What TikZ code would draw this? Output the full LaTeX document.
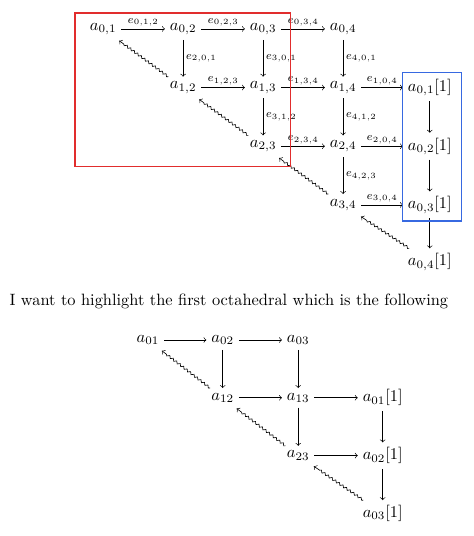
\RequirePackage{fix-cm}
\documentclass[tikz,border=0pt]{standalone}
\usepackage{tikz}
\usetikzlibrary{arrows, decorations.pathmorphing}
\definecolor{boxRed}{RGB}{225,45,45}
\definecolor{boxBlue}{RGB}{55,105,225}
\tikzset{
    objMath/.style={inner sep=3pt},
    arrow/.style={->, >=to},
    squigArrow/.style={->, >=to, decorate, decoration={snake, amplitude=0.7pt, segment length=2.8pt, post length=1.5mm}, shorten >=1pt},
    edgeLabel/.style={font=\fontsize{7.35}{8.8}\selectfont, inner sep=1.5pt},
    redBox/.style={draw=boxRed, thick},
    blueBox/.style={draw=boxBlue, thick}
}
\begin{document}
\begin{tikzpicture}[node distance=1.8cm, every node/.append style={font=\fontsize{10.5}{12.6}\selectfont}]
    \useasboundingbox (0,0) rectangle (10.665,-12.06);

    % first diagram
    \node (a01) [objMath] at (2.32,-0.65) {$a_{0,1}$};
    \node (a02) [objMath, right of=a01] {$a_{0,2}$};
    \node (a03) [objMath, right of=a02] {$a_{0,3}$};
    \node (a04) [objMath, right of=a03] {$a_{0,4}$};
    \node (a12) [objMath, below of=a02, yshift=0.48cm] {$a_{1,2}$};
    \node (a13) [objMath, right of=a12] {$a_{1,3}$};
    \node (a14) [objMath, right of=a13] {$a_{1,4}$};
    \node (a01s) [objMath, right of=a14, xshift=0.15cm] {$a_{0,1}[1]$};
    \node (a23) [objMath, below of=a13, yshift=0.48cm] {$a_{2,3}$};
    \node (a24) [objMath, right of=a23] {$a_{2,4}$};
    \node (a02s) [objMath, right of=a24, xshift=0.15cm] {$a_{0,2}[1]$};
    \node (a34) [objMath, below of=a24, yshift=0.48cm] {$a_{3,4}$};
    \node (a03s) [objMath, right of=a34, xshift=0.15cm] {$a_{0,3}[1]$};
    \node (a04s) [objMath, below of=a03s, yshift=0.52cm] {$a_{0,4}[1]$};

    \draw[arrow] (a01) -- node[edgeLabel, above] {$e_{0,1,2}$} (a02);
    \draw[arrow] (a02) -- node[edgeLabel, above] {$e_{0,2,3}$} (a03);
    \draw[arrow] (a03) -- node[edgeLabel, above] {$e_{0,3,4}$} (a04);
    \draw[arrow] (a12) -- node[edgeLabel, above] {$e_{1,2,3}$} (a13);
    \draw[arrow] (a13) -- node[edgeLabel, above] {$e_{1,3,4}$} (a14);
    \draw[arrow] (a14) -- node[edgeLabel, above] {$e_{1,0,4}$} (a01s);
    \draw[arrow] (a23) -- node[edgeLabel, above] {$e_{2,3,4}$} (a24);
    \draw[arrow] (a24) -- node[edgeLabel, above] {$e_{2,0,4}$} (a02s);
    \draw[arrow] (a34) -- node[edgeLabel, above] {$e_{3,0,4}$} (a03s);

    \draw[arrow] (a02) -- node[edgeLabel, right] {$e_{2,0,1}$} (a12);
    \draw[arrow] (a03) -- node[edgeLabel, right] {$e_{3,0,1}$} (a13);
    \draw[arrow] (a13) -- node[edgeLabel, right] {$e_{3,1,2}$} (a23);
    \draw[arrow] (a04) -- node[edgeLabel, right] {$e_{4,0,1}$} (a14);
    \draw[arrow] (a14) -- node[edgeLabel, right] {$e_{4,1,2}$} (a24);
    \draw[arrow] (a24) -- node[edgeLabel, right] {$e_{4,2,3}$} (a34);
    \draw[arrow] (a01s) -- (a02s);
    \draw[arrow] (a02s) -- (a03s);
    \draw[arrow] (a03s) -- (a04s);

    \draw[squigArrow] (a12) -- (a01);
    \draw[squigArrow] (a23) -- (a12);
    \draw[squigArrow] (a34) -- (a23);
    \draw[squigArrow] (a04s) -- (a34);

    \draw[redBox] ([shift={(-0.63,0.36)}]a01.center) rectangle ([shift={(0.61,-0.45)}]a23.center);
    \draw[blueBox] ([shift={(-0.61,0.34)}]a01s.center) rectangle ([shift={(0.72,-0.36)}]a03s.center);

    \node (txt) at (5.15,-6.79) {I want to highlight the first octahedral which is the following};

    % second diagram
    \node (b01) [objMath] at (3.33,-7.65) {$a_{01}$};
    \node (b02) [objMath, right of=b01, xshift=-0.12cm] {$a_{02}$};
    \node (b03) [objMath, right of=b02, xshift=-0.1cm] {$a_{03}$};
    \node (b12) [objMath, below of=b02, yshift=0.5cm] {$a_{12}$};
    \node (b13) [objMath, right of=b12, xshift=-0.1cm] {$a_{13}$};
    \node (b01s) [objMath, right of=b13, xshift=0.1cm] {$a_{01}[1]$};
    \node (b23) [objMath, below of=b13, yshift=0.5cm] {$a_{23}$};
    \node (b02s) [objMath, right of=b23, xshift=0.1cm] {$a_{02}[1]$};
    \node (b03s) [objMath, below of=b02s, yshift=0.5cm] {$a_{03}[1]$};

    \draw[arrow] (b01) -- (b02);
    \draw[arrow] (b02) -- (b03);
    \draw[arrow] (b12) -- (b13);
    \draw[arrow] (b13) -- (b01s);
    \draw[arrow] (b23) -- (b02s);
    \draw[arrow] (b02) -- (b12);
    \draw[arrow] (b03) -- (b13);
    \draw[arrow] (b13) -- (b23);
    \draw[arrow] (b01s) -- (b02s);
    \draw[arrow] (b02s) -- (b03s);

    \draw[squigArrow] (b12) -- (b01);
    \draw[squigArrow] (b23) -- (b12);
    \draw[squigArrow] (b03s) -- (b23);

\end{tikzpicture}
\end{document}
